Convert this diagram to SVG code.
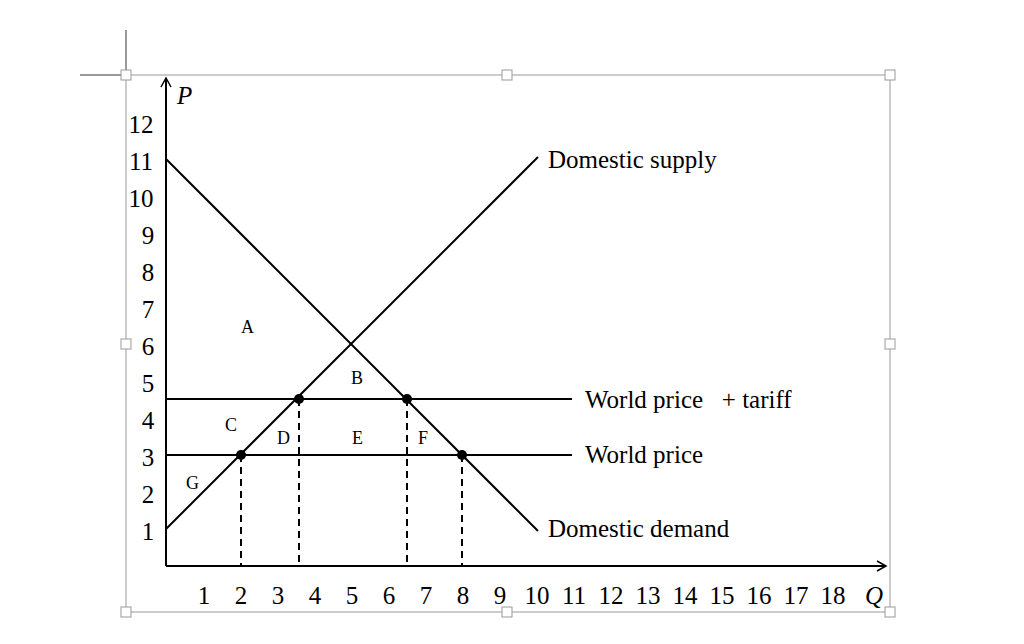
<svg xmlns="http://www.w3.org/2000/svg" width="1024" height="644" viewBox="0 0 1024 644">
<style>
.t{font-family:"Liberation Serif",serif;font-size:25px;fill:#000}
.s{font-family:"Liberation Serif",serif;font-size:18px;fill:#000}
.ln{stroke:#000;stroke-width:2;fill:none}
.d{stroke:#000;stroke-width:2;stroke-dasharray:7,5;fill:none}
.h{fill:#fff;stroke:#999;stroke-width:1}
</style>
<defs><marker id="ar" markerWidth="12" markerHeight="12" refX="10" refY="6" orient="auto" markerUnits="userSpaceOnUse"><path d="M1,1 L10,6 L1,11" fill="none" stroke="#000" stroke-width="1.5"/></marker></defs>
<rect width="1024" height="644" fill="#fff"/>
<g id="frame">
<line x1="126" y1="30" x2="126" y2="75" stroke="#999" stroke-width="2"/>
<line x1="80" y1="75" x2="126" y2="75" stroke="#999" stroke-width="2"/>
<rect x="126" y="75" width="764" height="537" fill="none" stroke="#999" stroke-width="1"/>
<rect class="h" x="121" y="70" width="10" height="10"/><rect class="h" x="502" y="70" width="10" height="10"/><rect class="h" x="885" y="70" width="10" height="10"/>
<rect class="h" x="121" y="339" width="10" height="10"/><rect class="h" x="885" y="339" width="10" height="10"/>
<rect class="h" x="121" y="607" width="10" height="10"/><rect class="h" x="502" y="607" width="10" height="10"/><rect class="h" x="885" y="607" width="10" height="10"/>
</g>
<g id="axes">
<line class="ln" x1="166" y1="566" x2="166" y2="78" marker-end="url(#ar)"/>
<line class="ln" x1="166" y1="566" x2="886" y2="566" marker-end="url(#ar)"/>
<text class="t" x="177" y="104" font-style="italic">P</text>
<text class="t" x="865" y="604" font-style="italic">Q</text>
<g text-anchor="middle">
<text class="t" x="141" y="133">12</text><text class="t" x="141" y="170">11</text><text class="t" x="141" y="207">10</text>
<text class="t" x="148" y="244">9</text><text class="t" x="148" y="281">8</text><text class="t" x="148" y="318">7</text>
<text class="t" x="148" y="355">6</text><text class="t" x="148" y="392">5</text><text class="t" x="148" y="429">4</text>
<text class="t" x="148" y="466">3</text><text class="t" x="148" y="503">2</text><text class="t" x="148" y="540">1</text>
<text class="t" x="204" y="604">1</text><text class="t" x="241" y="604">2</text><text class="t" x="278" y="604">3</text>
<text class="t" x="315" y="604">4</text><text class="t" x="352" y="604">5</text><text class="t" x="389" y="604">6</text>
<text class="t" x="426" y="604">7</text><text class="t" x="463" y="604">8</text><text class="t" x="500" y="604">9</text>
<text class="t" x="537" y="604">10</text><text class="t" x="574" y="604">11</text><text class="t" x="611" y="604">12</text>
<text class="t" x="648" y="604">13</text><text class="t" x="685" y="604">14</text><text class="t" x="722" y="604">15</text>
<text class="t" x="759" y="604">16</text><text class="t" x="796" y="604">17</text><text class="t" x="833" y="604">18</text>
</g>
</g>
<g id="connectors">
<line class="ln" x1="166" y1="159" x2="538" y2="531"/>
<line class="ln" x1="166" y1="529" x2="538" y2="157"/>
<line class="ln" x1="166" y1="455" x2="572" y2="455"/>
<line class="ln" x1="166" y1="399" x2="572" y2="399"/>
<line class="d" x1="241" y1="455" x2="241" y2="566"/>
<line class="d" x1="299" y1="399" x2="299" y2="566"/>
<line class="d" x1="407" y1="399" x2="407" y2="566"/>
<line class="d" x1="462" y1="455" x2="462" y2="566"/>
</g>
<g id="points">
<circle cx="241" cy="455" r="5"/><circle cx="299" cy="399" r="5"/><circle cx="407" cy="399" r="5"/><circle cx="462" cy="455" r="5"/>
</g>
<g id="labels">
<text class="t" x="548" y="168">Domestic supply</text>
<text class="t" x="548" y="537">Domestic demand</text>
<text class="t" x="585" y="408" xml:space="preserve">World price   + tariff</text>
<text class="t" x="585" y="463">World price</text>
<text class="s" x="241" y="333">A</text><text class="s" x="351" y="384">B</text>
<text class="s" x="225" y="431">C</text><text class="s" x="277" y="444">D</text>
<text class="s" x="352" y="444">E</text><text class="s" x="418" y="444">F</text>
<text class="s" x="186" y="489">G</text>
</g>
</svg>
